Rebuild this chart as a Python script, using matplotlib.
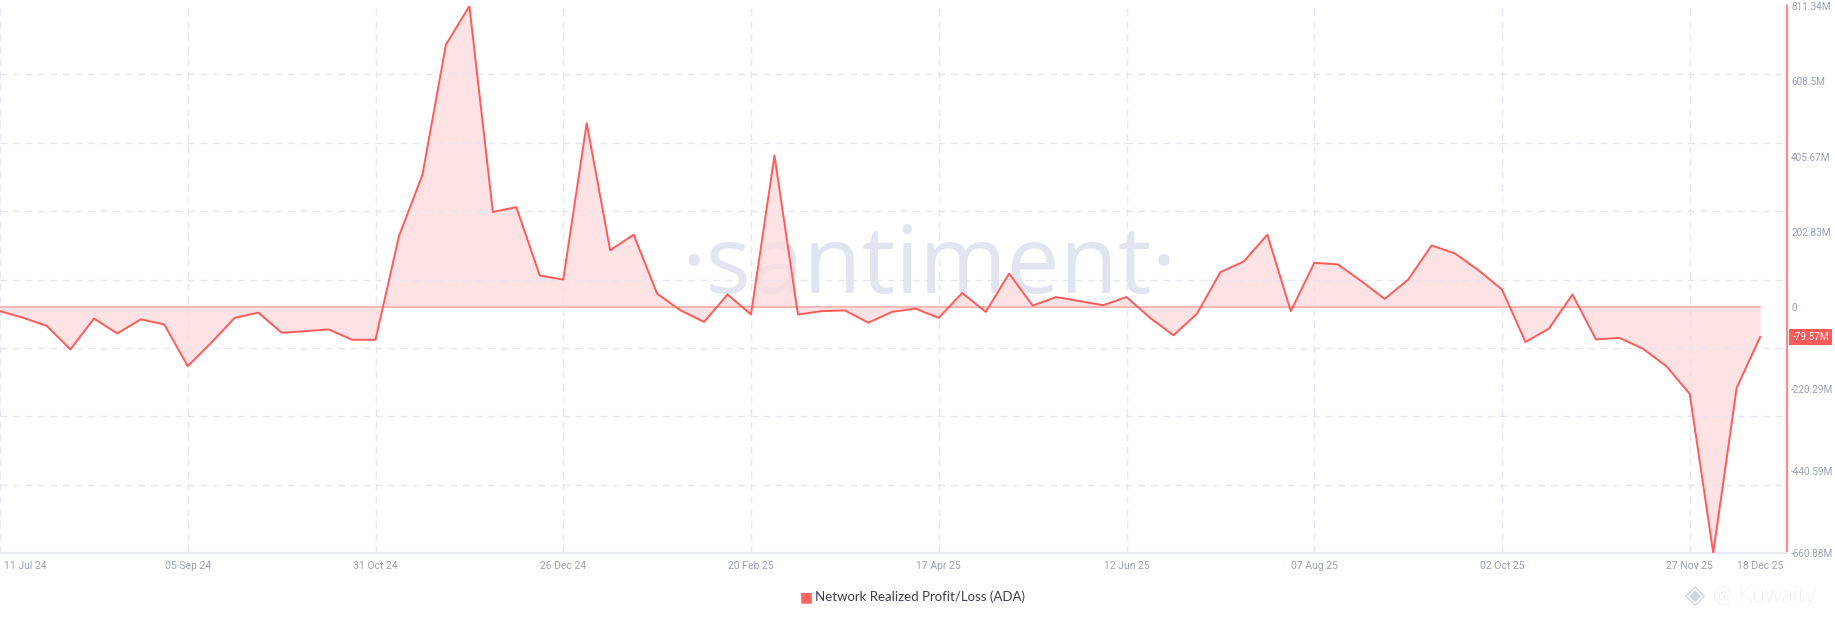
import pandas as pd
import numpy as np
import matplotlib
matplotlib.use('Agg')
import matplotlib.pyplot as plt
import matplotlib.transforms as mtransforms

plt.rcParams['font.family'] = ['Lato', 'DejaVu Sans']

# weekly Network Realized Profit/Loss (ADA), in millions
start_date = '2024-07-11'
profit_loss = [
    -10, -28, -50, -113, -30, -70, -32, -46, -158, -95,
    -28, -14, -68, -64, -59, -87, -87, 192, 357, 707,
    811.34, 257, 270, 86, 75, 496, 154, 196, 37, -8,
    -39, 35, -19, 409, -19, -10, -8, -41, -12, -3,
    -28, 39, -12, 91, 5, 28, 17, 6, 28, -28,
    -75, -17, 95, 124, 196, -10, 120, 116, 71, 23,
    75, 167, 145, 100, 48, -93, -57, 35, -86, -82,
    -111, -158, -233, -660.88, -216, -79.57,
]

y_ticks = [811.34, 608.5, 405.67, 202.83, 0, -220.29, -440.59, -660.88]
y_labels = ['811.34M', '608.5M', '405.67M', '202.83M', '0', '-220.29M', '-440.59M', '-660.88M']
x_ticks = ['2024-07-11', '2024-09-05', '2024-10-31', '2024-12-26', '2025-02-20',
           '2025-04-17', '2025-06-12', '2025-08-07', '2025-10-02', '2025-11-27', '2025-12-18']
x_labels = ['11 Jul 24', '05 Sep 24', '31 Oct 24', '26 Dec 24', '20 Feb 25',
            '17 Apr 25', '12 Jun 25', '07 Aug 25', '02 Oct 25', '27 Nov 25', '18 Dec 25']
last_label = '-79.57M'

dates = pd.date_range(start_date, periods=len(profit_loss), freq='7D')
vals = np.array(profit_loss)
tick_dates = pd.to_datetime(x_ticks)

red = '#ff5b5b'
grid_c = '#e4e7ef'
label_c = '#9aa1b3'
narrow = ['Roboto', 'DejaVu Sans']

fig = plt.figure(figsize=(18.35, 6.21), dpi=100)
ax = fig.add_axes([0, 1 - 553 / 621, 1787 / 1835, 547 / 621])

ymin, ymax = y_ticks[-1], y_ticks[0]
ax.set_ylim(ymin, ymax)
ax.set_xlim(dates[0], dates[-1] + pd.Timedelta(days=8))

# watermark
ax.text(0.52, 0.52, '\u00b7santiment\u00b7', transform=ax.transAxes, ha='center', va='center',
        fontsize=68, color='#e2e5f0', family=['Open Sans', 'DejaVu Sans'], zorder=0)

# grid
ax.set_yticks(np.linspace(ymin, ymax, 9), minor=True)
ax.grid(which='minor', axis='y', color=grid_c, lw=1, linestyle=(0, (5, 4)))
for d in tick_dates[:-1]:
    ax.axvline(d, color=grid_c, lw=1, linestyle=(0, (5, 4)), zorder=0.5)

ax.fill_between(dates, vals, 0, color='#ffd9dc', alpha=0.75, lw=0, zorder=1)
ax.plot([dates[0], dates[-1]], [0, 0], color='#ffaaaa', lw=1.2, zorder=2)
ax.plot(dates, vals, color=red, lw=1.4, zorder=3)

for s in ['left', 'top']:
    ax.spines[s].set_visible(False)
ax.spines['right'].set_color('#ff8a8a')
ax.spines['right'].set_linewidth(1.6)
ax.spines['bottom'].set_color('#e8eaf1')
ax.spines['bottom'].set_linewidth(1.6)

ax.yaxis.tick_right()
ax.set_yticks(y_ticks)
ax.set_yticklabels(y_labels, family=narrow)
ax.tick_params(axis='y', which='both', length=0, pad=3, labelsize=7.2, labelcolor=label_c)
ax.tick_params(axis='y', which='minor', labelright=False)

ax.set_xticks(tick_dates)
ax.set_xticklabels(x_labels, family=narrow)
ax.tick_params(axis='x', length=0, pad=6, labelsize=7.5, labelcolor=label_c)
first = ax.get_xticklabels()[0]
first.set_horizontalalignment('left')
first.set_x(first.get_position()[0])
first.set_transform(first.get_transform() + mtransforms.ScaledTranslation(4 / 100, 0, fig.dpi_scale_trans))

# last value badge
trans = mtransforms.blended_transform_factory(ax.transAxes, ax.transData)
ax.text(1.003, vals[-1], last_label, transform=trans, ha='left', va='center',
        fontsize=7.2, color='white', clip_on=False, family=narrow,
        bbox=dict(boxstyle='square,pad=0.3', fc=red, ec='none'))

# legend
fig.text(806 / 1835, 1 - 597 / 621, '\u25a0', color='#ff6464', fontsize=10, ha='center', va='center',
         family=['DejaVu Sans'])
fig.text(815 / 1835, 1 - 597 / 621, 'Network Realized Profit/Loss (ADA)', color='#3b4050',
         fontsize=9.5, ha='left', va='center')

# kuwaity mark
fig.text(1695 / 1835, 1 - 596 / 621, '\u25c8', color='#d0d4dd', fontsize=19, ha='center', va='center',
         family=['DejaVu Sans'])
fig.text(1713 / 1835, 1 - 596 / 621, '@ Kuwaity', color='#c9cdd7', fontsize=16.5, ha='left', va='center',
         family=['Lato', 'DejaVu Sans'], fontweight='light')

fig.savefig('out.png', dpi=100)
